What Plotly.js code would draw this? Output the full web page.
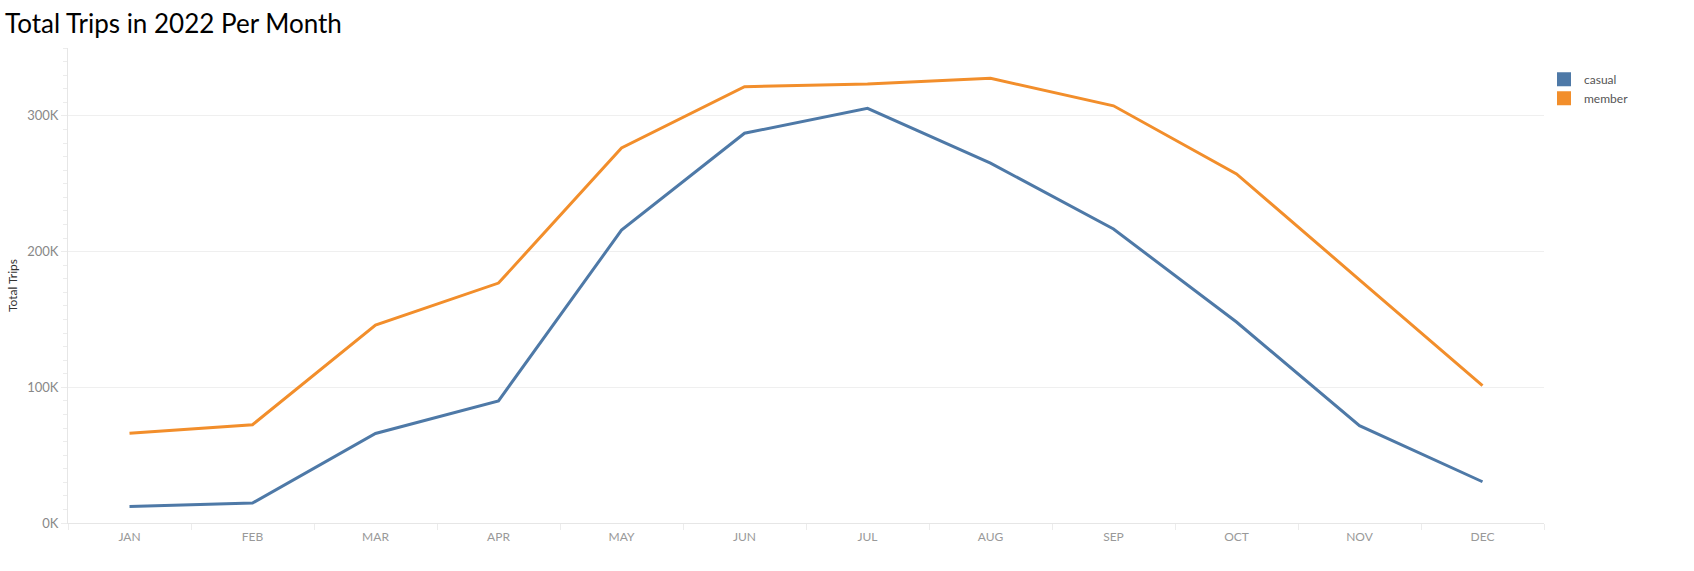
<!DOCTYPE html>
<html>
<head>
<meta charset="utf-8">
<script src="https://cdn.plot.ly/plotly-3.0.1.min.js"></script>
<style>
  html, body { margin: 0; padding: 0; background: #fff; }
  #chart { width: 1694px; height: 571px; }
</style>
</head>
<body>
<div id="chart"></div>
<script>
const months = ["JAN","FEB","MAR","APR","MAY","JUN","JUL","AUG","SEP","OCT","NOV","DEC"];
const casualTrips = [12200, 14700, 66000, 90000, 215800, 287200, 305600, 265200, 216600, 148100, 71700, 30400];
const memberTrips = [66100, 72400, 145800, 176800, 276300, 321500, 323500, 327700, 307400, 257200, 179200, 101200];
const seriesNames = ["casual", "member"];
const seriesColors = ["#4e79a7", "#f28e2b"];
const yTickVals = [0, 100000, 200000, 300000];
const yTickText = ["0K", "100K", "200K", "300K"];

const font = "Lato, 'Noto Sans', sans-serif";

const traces = [
  { x: months, y: casualTrips, name: seriesNames[0], type: "scatter", mode: "lines",
    line: { color: seriesColors[0], width: 3 }, showlegend: false },
  { x: months, y: memberTrips, name: seriesNames[1], type: "scatter", mode: "lines",
    line: { color: seriesColors[1], width: 3 }, showlegend: false },
  // legend keys (square swatches)
  { x: [null], y: [null], name: seriesNames[0], type: "scatter", mode: "markers",
    marker: { symbol: "square", size: 14, color: seriesColors[0] }, hoverinfo: "skip" },
  { x: [null], y: [null], name: seriesNames[1], type: "scatter", mode: "markers",
    marker: { symbol: "square", size: 14, color: seriesColors[1] }, hoverinfo: "skip" }
];

const layout = {
  width: 1694, height: 571,
  margin: { l: 68, r: 150, t: 48, b: 48, pad: 0 },
  paper_bgcolor: "#ffffff", plot_bgcolor: "#ffffff",
  font: { family: font, color: "#888" },
  title: {
    text: "Total Trips in 2022 Per Month",
    x: 0, xref: "container", xanchor: "left", pad: { l: 5 },
    y: 1 - 24 / 571, yref: "container", yanchor: "middle",
    font: { family: font, size: 26, color: "#000" }
  },
  xaxis: {
    type: "category", categoryorder: "array", categoryarray: months,
    range: [-0.5, 11.5], fixedrange: true,
    showline: true, linecolor: "#e6e6e6", linewidth: 1,
    showgrid: false, zeroline: false,
    tickson: "boundaries", ticks: "outside", ticklen: 6, tickcolor: "#ececec",
    ticklabelstandoff: 3,
    tickfont: { family: font, size: 12, color: "#999" }
  },
  yaxis: {
    range: [0, 350000], fixedrange: true,
    tickvals: yTickVals, ticktext: yTickText,
    showline: true, linecolor: "#e6e6e6", linewidth: 1,
    showgrid: true, gridcolor: "#efefef", gridwidth: 1, zeroline: false,
    ticks: "outside", ticklen: 6, tickcolor: "#ececec",
    minor: { dtick: 10000, ticks: "outside", ticklen: 4, tickcolor: "#ececec", showgrid: false },
    tickfont: { family: font, size: 13, color: "#888" },
    title: { text: "Total Trips", standoff: 6, font: { family: font, size: 12, color: "#333" } }
  },
  legend: {
    x: 1.0, xanchor: "left", xref: "paper",
    y: 0.965, yanchor: "top",
    font: { family: font, size: 12, color: "#555" },
    itemsizing: "trace", tracegroupgap: 0,
    bgcolor: "rgba(0,0,0,0)"
  },
  showlegend: true
};

Plotly.newPlot("chart", traces, layout, { displayModeBar: false, staticPlot: true });
</script>
</body>
</html>
